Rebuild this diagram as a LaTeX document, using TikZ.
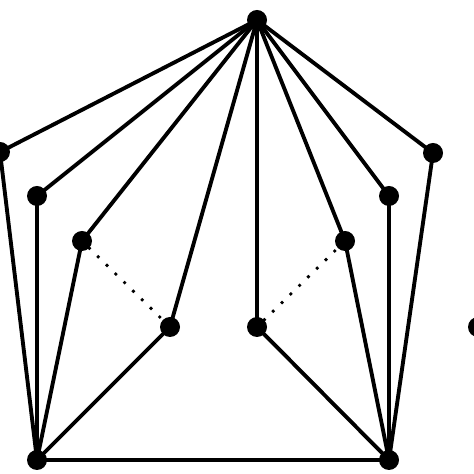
\documentclass[tikz,border=0pt]{standalone}
\usepackage{amsmath}
\usepackage{amssymb}

\tikzset{
  vert/.style={circle, fill=black, inner sep=0pt, minimum size=0.4cm},
  edge/.style={line width=2.2pt},
  gap/.style={line width=2.2pt, dotted, line cap=round, dash pattern=on 0pt off 7pt}
}

\begin{document}
\begin{tikzpicture}
            \useasboundingbox (0, 0) rectangle (9.48, 9.48);
            \clip (0, 0) rectangle (9.48, 9.48);
            \node[vert] (t) at (5.14, 9.08) {};
            \node[vert] (lo) at (0, 6.44) {};
            \node[vert] (ro) at (8.66, 6.42) {};
            \node[vert] (la) at (0.74, 5.56) {};
            \node[vert] (ra) at (7.78, 5.56) {};
            \node[vert] (lb) at (1.64, 4.66) {};
            \node[vert] (rb) at (6.90, 4.66) {};
            \node[vert] (lc) at (3.40, 2.94) {};
            \node[vert] (rc) at (5.14, 2.94) {};
            \node[vert] (bl) at (0.74, 0.28) {};
            \node[vert] (br) at (7.78, 0.28) {};
            \node[vert] (x) at (9.56, 2.94) {};
            \foreach \v in {lo, la, lb, lc, rc, rb, ra, ro}
                \draw[edge] (t.center) -- (\v.center);
            \foreach \v in {lo, la, lb, lc}
                \draw[edge] (\v.center) -- (bl.center);
            \foreach \v in {ro, ra, rb, rc}
                \draw[edge] (\v.center) -- (br.center);
            \draw[edge] (bl.center) -- (br.center);
            \draw[gap] (lb) -- (lc);
            \draw[gap] (rc) -- (rb);
        \end{tikzpicture}
\end{document}
